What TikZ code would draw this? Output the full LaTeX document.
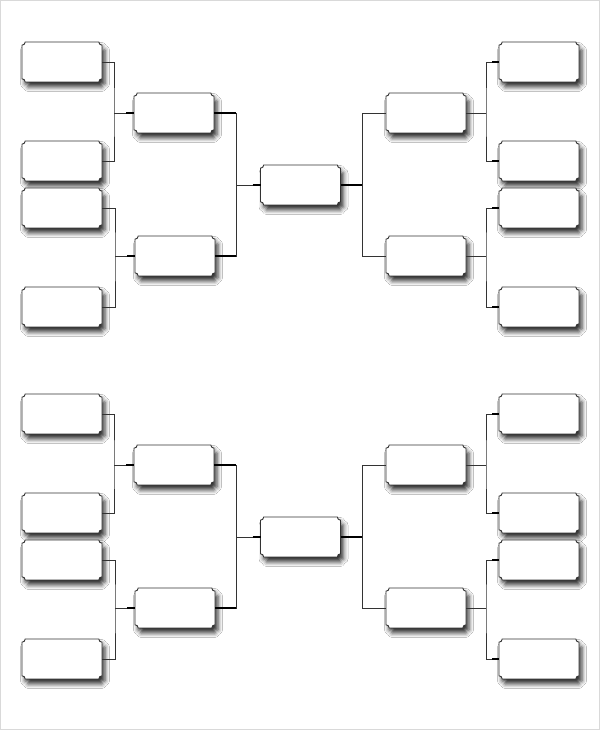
\documentclass[tikz,border=0pt]{standalone}
\usetikzlibrary{calc,shadows.blur}
\tikzset{
  slot/.style={minimum width=80pt, minimum height=40pt, inner sep=0pt, outer sep=0pt},
  boxline/.style={draw=black!80, line width=0.9pt, fill=white,
    blur shadow={shadow xshift=3pt, shadow yshift=-5pt, shadow blur radius=4.5pt, shadow opacity=80}},
  conn/.style={draw=black!80, line width=0.8pt},
  stub/.style={draw=black, line width=2pt},
  frame/.style={draw=black!15, line width=1.2pt}
}
\newcommand\notchbox[1]{%
  \path[boxline] ($(#1.north west)+(3.2,0)$) -- ($(#1.north east)+(-3.2,0)$)
    arc[start angle=180,end angle=270,radius=3.2pt]
    -- ($(#1.south east)+(0,3.2)$) arc[start angle=90,end angle=180,radius=3.2pt]
    -- ($(#1.south west)+(3.2,0)$) arc[start angle=0,end angle=90,radius=3.2pt]
    -- ($(#1.north west)+(0,-3.2)$) arc[start angle=270,end angle=360,radius=3.2pt]
    -- cycle;}
\begin{document}
\begin{tikzpicture}[x=1pt,y=1pt]
\useasboundingbox (0,0) rectangle (600,730);
\fill[white] (0,0) rectangle (600,730);
\draw[frame] (0.6,0.6) rectangle (599.4,729.4);
\foreach \h/\dy in {a/0,b/-352}{
\begin{scope}[yshift=\dy pt]
  % left first round
  \node[slot] (\h L1) at (62,668) {};
  \node[slot] (\h L2) at (62,569) {};
  \node[slot] (\h L3) at (62,522) {};
  \node[slot] (\h L4) at (62,423) {};
  % left second round
  \node[slot] (\h S1) at (174,617) {};
  \node[slot] (\h S2) at (175,474) {};
  % centre
  \node[slot] (\h C) at (300.5,545) {};
  % right second round
  \node[slot] (\h T1) at (426,617) {};
  \node[slot] (\h T2) at (426,474) {};
  % right first round
  \node[slot] (\h R1) at (539,668) {};
  \node[slot] (\h R2) at (539,569) {};
  \node[slot] (\h R3) at (539,522) {};
  \node[slot] (\h R4) at (539,423) {};
  \foreach \n in {L1,L2,L3,L4,S1,S2,C,T1,T2,R1,R2,R3,R4}{\notchbox{\h\n}}
  % left brackets
  \draw[conn] (\h L1.east) -| ([xshift=-20pt]\h S1.west) |- (\h L2.east);
  \draw[conn] ([xshift=-20pt]\h S1.west) -- (\h S1.west);
  \draw[stub] ([xshift=-8pt]\h S1.west) -- (\h S1.west);
  \draw[conn] (\h L3.east) -| ([xshift=-20pt]\h S2.west) |- (\h L4.east);
  \draw[conn] ([xshift=-20pt]\h S2.west) -- (\h S2.west);
  \draw[stub] ([xshift=-8pt]\h S2.west) -- (\h S2.west);
  \draw[conn] (\h S1.east) -| ([xshift=-24pt]\h C.west) |- (\h S2.east);
  \draw[stub] (\h S1.east) -- ([xshift=22pt]\h S1.east);
  \draw[stub] (\h S2.east) -- ([xshift=21pt]\h S2.east);
  \draw[conn] ([xshift=-24pt]\h C.west) -- (\h C.west);
  \draw[stub] ([xshift=-8pt]\h C.west) -- (\h C.west);
  % right brackets
  \draw[stub] (\h C.east) -- ([xshift=22pt]\h C.east);
  \draw[conn] (\h T1.west) -| ([xshift=22pt]\h C.east) |- (\h T2.west);
  \draw[conn] (\h R1.west) -| ([xshift=20pt]\h T1.east) |- (\h R2.west);
  \draw[conn] ([xshift=20pt]\h T1.east) -- (\h T1.east);
  \draw[conn] (\h R3.west) -| ([xshift=20pt]\h T2.east) |- (\h R4.west);
  \draw[conn] ([xshift=20pt]\h T2.east) -- (\h T2.east);
  \foreach \n in {R1,R2,R3,R4}{\draw[stub] ([xshift=-7pt]\h\n.west) -- (\h\n.west);}
\end{scope}
}
\end{tikzpicture}
\end{document}
